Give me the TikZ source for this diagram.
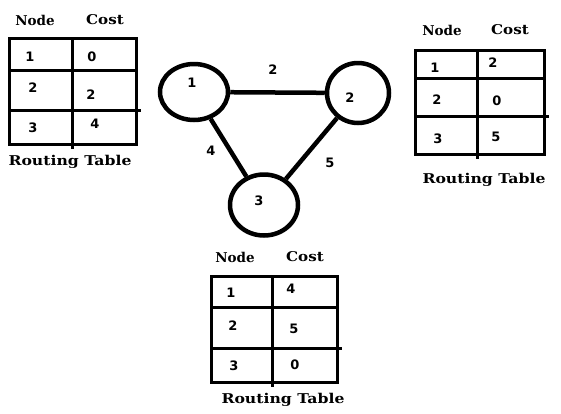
\documentclass[tikz,border=0pt]{standalone}
\usepackage{fontspec}
\usepackage{graphicx}
\setmainfont{DejaVu Serif}
\newfontfamily\digitfont{DejaVu Sans}
\usetikzlibrary{shapes.geometric}
\begin{document}
\begin{tikzpicture}[x=1pt,y=-1pt,
  tbl/.style={line width=3pt, line cap=rect},
  hdr/.style={font=\fontsize{13.5}{13.5}\bfseries, inner sep=0pt},
  num/.style={font=\digitfont\fontsize{13}{13}\bfseries, inner sep=0pt},
  captxt/.style={font=\fontsize{13.5}{13.5}\bfseries, inner sep=0pt},
  vert/.style={draw, ellipse, line width=4.5pt, inner sep=0pt},
  edge/.style={line width=4.5pt}]
\useasboundingbox[fill=white] (0,0) rectangle (561,413);

% ---------- Table 1 (top left) ----------
\draw[tbl] (9,38) rectangle (136,144);
\draw[tbl] (72,38) -- (72,147);
\draw[tbl] (9,70) -- (136,70);
\draw[tbl] (9,110) -- (139,110);
\node[hdr] (t1h1) at (35,20) {Node};
\node[hdr] (t1h2) at (105,20) {\scalebox{1.12}[1]{Cost}};
\node[num] (t1a1) at (30,57) {1};
\node[num] (t1b1) at (92,57) {0};
\node[num] (t1a2) at (33,88) {2};
\node[num] (t1b2) at (91,95) {2};
\node[num] (t1a3) at (33,128) {3};
\node[num] (t1b3) at (95,124) {4};
\node[captxt] (t1c) at (70,162) {\scalebox{1.16}[1]{Routing Table}};

% ---------- Table 2 (right) ----------
\draw[tbl] (415,50) rectangle (544,154);
\draw[tbl] (477,50) -- (477,157);
\draw[tbl] (415,78) -- (544,78);
\draw[tbl] (415,116) -- (547,116);
\node[hdr] (t2h1) at (442,30) {Node};
\node[hdr] (t2h2) at (510,30) {\scalebox{1.12}[1]{Cost}};
\node[num] (t2a1) at (435,68) {1};
\node[num] (t2b1) at (493,63) {2};
\node[num] (t2a2) at (437,100) {2};
\node[num] (t2b2) at (497,101) {0};
\node[num] (t2a3) at (438,139) {3};
\node[num] (t2b3) at (496,137) {5};
\node[captxt] (t2c) at (484,180) {\scalebox{1.16}[1]{Routing Table}};

% ---------- Table 3 (bottom) ----------
\draw[tbl] (211,276) rectangle (337,382);
\draw[tbl] (272,276) -- (272,385);
\draw[tbl] (211,307) -- (337,307);
\draw[tbl] (211,348) -- (340,348);
\node[hdr] (t3h1) at (235,257) {Node};
\node[hdr] (t3h2) at (305,257) {\scalebox{1.12}[1]{Cost}};
\node[num] (t3a1) at (231,293) {1};
\node[num] (t3b1) at (291,289) {4};
\node[num] (t3a2) at (233,326) {2};
\node[num] (t3b2) at (294,329) {5};
\node[num] (t3a3) at (234,366) {3};
\node[num] (t3b3) at (295,365) {0};
\node[captxt] (t3c) at (283,400) {\scalebox{1.16}[1]{Routing Table}};

% ---------- Graph ----------
\node[vert, minimum width=68pt, minimum height=56pt] (c1) at (194,92) {};
\node[vert, minimum width=62pt, minimum height=60pt] (c2) at (358,93) {};
\node[vert, minimum width=68pt, minimum height=61pt] (c3) at (264,205) {};
\node[num] (l1) at (192,83) {1};
\node[num] (l2) at (350,98) {2};
\node[num] (l3) at (259,201) {3};

\draw[edge] (c1) -- (c2);
\draw[edge] (c1) -- (c3);
\draw[edge] (c2) -- (c3);

\node[num] (w12) at (273,70) {2};
\node[num] (w13) at (211,151) {4};
\node[num] (w23) at (330,163) {5};
\end{tikzpicture}
\end{document}
